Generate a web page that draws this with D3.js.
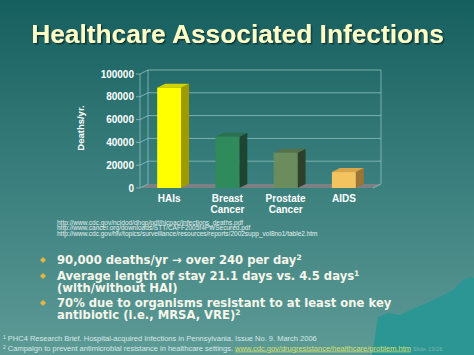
<!DOCTYPE html>
<html>
<head>
<meta charset="utf-8">
<script src="https://cdn.jsdelivr.net/npm/d3@7"></script>
<style>
  html, body { margin: 0; padding: 0; overflow: hidden; }
  svg { display: block; }
</style>
</head>
<body>
<svg id="slide" width="474" height="355"></svg>
<script>
// chart values
const categories = ["HAIs", "Breast Cancer", "Prostate Cancer", "AIDS"];
const categoryLines = [["HAIs"], ["Breast", "Cancer"], ["Prostate", "Cancer"], ["AIDS"]];
const deaths = [88000, 45000, 31000, 14000];
const yTicks = [0, 20000, 40000, 60000, 80000, 100000];

const frontColors = ["#ffff00", "#2f8a5c", "#6b8c5c", "#f2c35e"];
const sideColors = ["#9e9a00", "#1d4632", "#2e3f2c", "#9c7434"];
const topColors = ["#d6d200", "#2a7050", "#56704a", "#d8a548"];

const sources = [
  "http://www.cdc.gov/ncidod/dhqp/pdf/hicpac/infections_deaths.pdf",
  "http://www.cancer.org/downloads/STT/CAFF2005f4PWSecured.pdf",
  "http://www.cdc.gov/hiv/topics/surveillance/resources/reports/2002supp_vol8no1/table2.htm"
];

const bullets = [
  [{t: "90,000 deaths/yr \u2192 over 240 per day"}, {t: "2", sup: true}],
  [{t: "Average length of stay 21.1 days vs. 4.5 days"}, {t: "1", sup: true}],
  [{t: "(with/without HAI)"}],
  [{t: "70% due to organisms resistant to at least one key"}],
  [{t: "antibiotic (i.e., MRSA, VRE)"}, {t: "2", sup: true}]
];
const bulletStarts = [true, true, false, true, false];

const svg = d3.select("#slide");

// background
const defs = svg.append("defs");
const grad = defs.append("linearGradient").attr("id", "bg")
  .attr("x1", 0).attr("y1", 0).attr("x2", 0).attr("y2", 1);
grad.append("stop").attr("offset", "0%").attr("stop-color", "#165f5f");
grad.append("stop").attr("offset", "45%").attr("stop-color", "#367c7a");
grad.append("stop").attr("offset", "100%").attr("stop-color", "#5d9a96");
svg.append("rect").attr("width", 474).attr("height", 355).attr("fill", "url(#bg)");

const shadow = defs.append("filter").attr("id", "shadow")
  .attr("x", "-5%").attr("y", "-20%").attr("width", "110%").attr("height", "140%");
shadow.append("feDropShadow").attr("dx", 1.5).attr("dy", 1.5).attr("stdDeviation", 0.4)
  .attr("flood-color", "#0b2e2e").attr("flood-opacity", 0.85);

// teal hills bottom right
const hill = [[372, 355], [376, 330], [378, 317], [388, 313], [400, 315], [410, 310],
  [427, 303], [440, 297], [453, 290], [463, 280], [470, 277], [474, 278], [474, 355]];
svg.append("path").attr("d", d3.line()(hill)).attr("fill", "#2b9693");

// title
svg.append("text").attr("x", 237.5).attr("y", 43)
  .attr("text-anchor", "middle")
  .attr("font-family", "Liberation Sans, Arial, sans-serif")
  .attr("font-weight", "bold").attr("font-size", 26.3)
  .attr("fill", "#ffffc8")
  .attr("filter", "url(#shadow)")
  .text("Healthcare Associated Infections");

// chart
const dx = 8, dy = 4;
const x = d3.scaleBand().domain(categories).range([140, 373])
  .paddingInner(0.59).paddingOuter(0.295);
const y = d3.scaleLinear().domain([0, 100000]).range([188, 74]);
const grid = "#8fc0bf";

const chart = svg.append("g");

// floor
chart.append("path")
  .attr("d", d3.line()([[140, y(0)], [373, y(0)], [373 + dx, y(0) - dy], [140 + dx, y(0) - dy]]) + "Z")
  .attr("fill", "#7c8283");

// grid on back wall and left wall
yTicks.forEach(t => {
  if (t > 0) {
    chart.append("line").attr("x1", 140 + dx).attr("x2", 373 + dx)
      .attr("y1", y(t) - dy).attr("y2", y(t) - dy)
      .attr("stroke", grid).attr("stroke-width", 0.8);
  }
  chart.append("line").attr("x1", 140).attr("x2", 140 + dx)
    .attr("y1", y(t)).attr("y2", y(t) - dy)
    .attr("stroke", grid).attr("stroke-width", 0.8);
  chart.append("line").attr("x1", 136).attr("x2", 140)
    .attr("y1", y(t)).attr("y2", y(t))
    .attr("stroke", grid).attr("stroke-width", 0.8);
});
chart.append("line").attr("x1", 140 + dx).attr("x2", 140 + dx)
  .attr("y1", y(0) - dy).attr("y2", y(100000) - dy).attr("stroke", grid).attr("stroke-width", 0.8);
chart.append("line").attr("x1", 373 + dx).attr("x2", 373 + dx)
  .attr("y1", y(0) - dy).attr("y2", y(100000) - dy).attr("stroke", grid).attr("stroke-width", 0.8);
chart.append("line").attr("x1", 140).attr("x2", 140)
  .attr("y1", y(0)).attr("y2", y(100000)).attr("stroke", grid).attr("stroke-width", 0.8);
chart.append("line").attr("x1", 373).attr("x2", 373 + dx)
  .attr("y1", y(0)).attr("y2", y(0) - dy).attr("stroke", grid).attr("stroke-width", 0.8);

// y tick labels
chart.selectAll(".ylab").data(yTicks).enter().append("text")
  .attr("x", 134).attr("y", d => y(d) + 3.5)
  .attr("text-anchor", "end")
  .attr("font-family", "Liberation Sans, Arial, sans-serif")
  .attr("font-weight", "bold").attr("font-size", 10).attr("fill", "#ffffff")
  .text(d => d);

chart.append("text")
  .attr("transform", "translate(84,128) rotate(-90)")
  .attr("text-anchor", "middle")
  .attr("font-family", "Liberation Sans, Arial, sans-serif")
  .attr("font-weight", "bold").attr("font-size", 9.5).attr("fill", "#ffffff")
  .text("Deaths/yr.");

// bars
const bars = chart.selectAll(".bar").data(deaths).enter().append("g");
bars.append("path")
  .attr("d", (d, i) => {
    const x1 = x(categories[i]) + x.bandwidth();
    return d3.line()([[x1, y(d)], [x1 + dx, y(d) - dy], [x1 + dx, y(0) - dy], [x1, y(0)]]) + "Z";
  })
  .attr("fill", (d, i) => sideColors[i]);
bars.append("path")
  .attr("d", (d, i) => {
    const x0 = x(categories[i]), x1 = x0 + x.bandwidth();
    return d3.line()([[x0, y(d)], [x0 + dx, y(d) - dy], [x1 + dx, y(d) - dy], [x1, y(d)]]) + "Z";
  })
  .attr("fill", (d, i) => topColors[i]);
bars.append("rect")
  .attr("x", (d, i) => x(categories[i]))
  .attr("y", d => y(d))
  .attr("width", x.bandwidth())
  .attr("height", d => y(0) - y(d))
  .attr("fill", (d, i) => frontColors[i]);

// x labels
categoryLines.forEach((lines, i) => {
  lines.forEach((ln, j) => {
    chart.append("text")
      .attr("x", x(categories[i]) + x.bandwidth() / 2)
      .attr("y", 201.5 + j * 11.5)
      .attr("text-anchor", "middle")
      .attr("font-family", "Liberation Sans, Arial, sans-serif")
      .attr("font-weight", "bold").attr("font-size", 10).attr("fill", "#ffffff")
      .text(ln);
  });
});

// sources
svg.selectAll(".src").data(sources).enter().append("text")
  .attr("x", 57).attr("y", (d, i) => 224.5 + i * 5.5)
  .attr("font-family", "Liberation Sans, Arial, sans-serif")
  .attr("font-size", 6.5).attr("fill", "#e4f0ee")
  .text(d => d);

// bullets
const bulletY = [264, 280, 291.5, 307, 319];
bullets.forEach((parts, i) => {
  if (bulletStarts[i]) {
    const cy = bulletY[i] - 4;
    svg.append("path")
      .attr("d", d3.line()([[43, cy - 3], [46, cy], [43, cy + 3], [40, cy]]) + "Z")
      .attr("fill", "#e8b444");
  }
  const t = svg.append("text").attr("x", 57).attr("y", bulletY[i])
    .attr("font-family", "DejaVu Sans, Verdana, sans-serif")
    .attr("font-weight", "bold").attr("font-size", 11.6).attr("fill", "#f6f6ea");
  parts.forEach(p => {
    const s = t.append("tspan").text(p.t);
    if (p.sup) s.attr("font-size", 7.5).attr("dy", -4.5);
  });
});

// footnotes
const fn = svg.append("g")
  .attr("font-family", "Liberation Sans, Arial, sans-serif")
  .attr("font-size", 7.5).attr("fill", "#d6e8e6");
const f1 = fn.append("text").attr("x", 3).attr("y", 340.5);
f1.append("tspan").attr("font-size", 5).attr("dy", -2).text("1");
f1.append("tspan").attr("dy", 2).text(" PHC4 Research Brief. Hospital-acquired Infections in Pennsylvania. Issue No. 9. March 2006");
const f2 = fn.append("text").attr("x", 3).attr("y", 350.5);
f2.append("tspan").attr("font-size", 5).attr("dy", -2).text("2");
f2.append("tspan").attr("dy", 2).text(" Campaign to prevent antimicrobial resistance in healthcare settings.  ");
f2.append("tspan").attr("fill", "#d4e070").attr("text-decoration", "underline")
  .text("www.cdc.gov/drugresistance/healthcare/problem.htm");
f2.append("tspan").attr("fill", "#7fb3b0").attr("font-size", 6).text("  Slide 13/26");
</script>
</body>
</html>
